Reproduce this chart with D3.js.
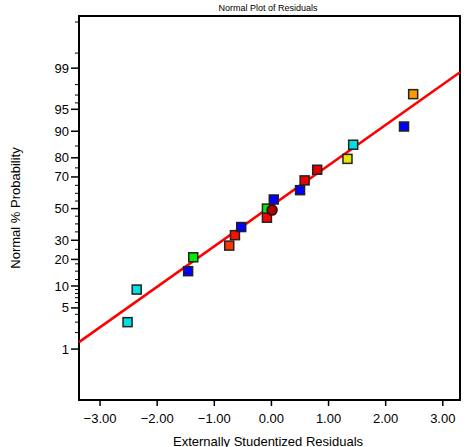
<!DOCTYPE html>
<html><head><meta charset="utf-8">
<script src="https://cdn.jsdelivr.net/npm/d3@7"></script>
<style>body{margin:0;background:#fff}text{font-family:"Liberation Sans",Arial,sans-serif}</style>
</head><body>
<script>
// residuals and their normal % probability
const resid = [-2.51, -2.35, -1.45, -1.36, -0.73, -0.63, -0.52, -0.07, -0.07, 0.05, 0.51, 0.59, 0.81, 1.34, 1.44, 2.33, 2.49];
const prob  = [3.0, 9.0, 15, 21, 27, 33, 38, 44, 50, 56, 62, 68, 74, 79.5, 85.5, 91.3, 97.1];
const fill  = ['#00e0e0', '#00e0e0', '#0000ff', '#00ee00', '#ff3300', '#ff1100', '#0000ff', '#ff0000', '#00ee00', '#0000ff', '#0000ff', '#ee0000', '#dd0000', '#e8e800', '#00e0e0', '#0000ff', '#ff9900'];
const xTicks = [-3, -2, -1, 0, 1, 2, 3];
const yTicks = [1, 5, 10, 20, 30, 50, 70, 80, 90, 95, 99];
const minorTicks = [2, 3, 4, 6, 7, 8, 9, 12, 15, 18, 25, 35, 40, 45, 55, 60, 65, 75, 85, 96, 97, 98, 99.5, 99.9];

const margin = {top: 16, right: 14, bottom: 47, left: 79};
const width = 474 - margin.left - margin.right,
      height = 447 - margin.top - margin.bottom;

const svg = d3.select("body").append("svg")
    .attr("width", 474).attr("height", 447);
const g = svg.append("g").attr("transform", `translate(${margin.left},${margin.top})`);

const x = d3.scaleLinear().domain([-3.36, 3.31]).range([0, width]);
const z = d3.scaleLinear().domain([-3.17, 3.19]).range([height, 0]);
function inv(p) { // inverse normal CDF (Acklam)
  const a=[-39.6968302866538,220.946098424521,-275.928510446969,138.357751867269,-30.6647980661472,2.50662827745924],
        b=[-54.4760987982241,161.585836858041,-155.698979859887,66.8013118877197,-13.2806815528857],
        c=[-0.00778489400243029,-0.322396458041136,-2.40075827716184,-2.54973253934373,4.37466414146497,2.93816398269878],
        d=[0.00778469570904146,0.32246712907004,2.445134137143,3.75440866190742];
  const pl=0.02425;
  if (p < pl) { const q=Math.sqrt(-2*Math.log(p)); return (((((c[0]*q+c[1])*q+c[2])*q+c[3])*q+c[4])*q+c[5])/((((d[0]*q+d[1])*q+d[2])*q+d[3])*q+1); }
  if (p > 1-pl) { const q=Math.sqrt(-2*Math.log(1-p)); return -(((((c[0]*q+c[1])*q+c[2])*q+c[3])*q+c[4])*q+c[5])/((((d[0]*q+d[1])*q+d[2])*q+d[3])*q+1); }
  const q=p-0.5, r=q*q;
  return (((((a[0]*r+a[1])*r+a[2])*r+a[3])*r+a[4])*r+a[5])*q/(((((b[0]*r+b[1])*r+b[2])*r+b[3])*r+b[4])*r+1);
}
const y = p => z(inv(p / 100));

// frame
g.append("rect").attr("width", width).attr("height", height)
  .attr("fill", "none").attr("stroke", "#000").attr("stroke-width", 2);

// x axis
const xa = g.append("g").attr("transform", `translate(0,${height})`)
  .call(d3.axisBottom(x).tickValues(xTicks).tickFormat(d3.format(".2f")).tickSize(6).tickSizeOuter(0));
xa.select(".domain").remove();
xa.selectAll("line").attr("stroke-width", 1.5);
xa.selectAll("text").attr("font-size", 13).attr("dy", "1.1em")
  .attr("font-family", "Liberation Sans, Arial, sans-serif");

// y axis
const ya = g.append("g");
ya.selectAll(".mn").data(minorTicks).join("line")
  .attr("x1", -4).attr("x2", 0).attr("y1", y).attr("y2", y).attr("stroke", "#000");
ya.selectAll(".mj").data(yTicks).join("line")
  .attr("x1", -8).attr("x2", 0).attr("y1", y).attr("y2", y).attr("stroke", "#000").attr("stroke-width", 1.5);
ya.selectAll("text").data(yTicks).join("text")
  .attr("x", -10).attr("y", y).attr("dy", "0.35em").attr("text-anchor", "end")
  .attr("font-size", 13).text(d => d);

// fit line
const lineX = x.domain();
g.append("line")
  .attr("x1", x(lineX[0])).attr("y1", z(0.67 * lineX[0] + 0.04))
  .attr("x2", x(lineX[1])).attr("y2", z(0.67 * lineX[1] + 0.04))
  .attr("stroke", "#ff0000").attr("stroke-width", 2.5);

// points
g.selectAll(".pt").data(resid).join("rect")
  .attr("x", (d) => x(d) - 4.5).attr("y", (d, i) => y(prob[i]) - 4.5)
  .attr("width", 9).attr("height", 9)
  .attr("fill", (d, i) => fill[i]).attr("stroke", "#222").attr("stroke-width", 1.5);
g.append("circle").attr("cx", x(0.02)).attr("cy", y(49)).attr("r", 5)
  .attr("fill", "#aa0000").attr("stroke", "#330000").attr("stroke-width", 1.5);

// labels
svg.append("text").attr("x", 268).attr("y", 11).attr("text-anchor", "middle")
  .attr("font-size", 9).text("Normal Plot of Residuals");
svg.append("text").attr("x", 268).attr("y", 446).attr("text-anchor", "middle")
  .attr("font-size", 13).text("Externally Studentized Residuals");
svg.append("text").attr("transform", "translate(20,208) rotate(-90)").attr("text-anchor", "middle")
  .attr("font-size", 13).text("Normal % Probability");
</script>
</body></html>
